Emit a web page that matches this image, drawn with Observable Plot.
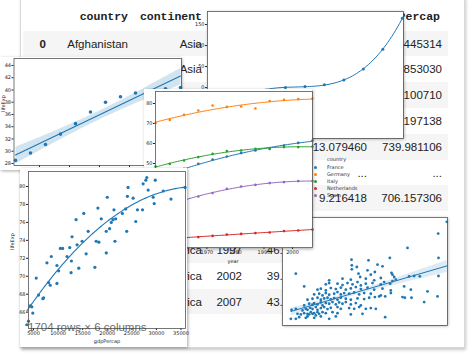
<!DOCTYPE html>
<html>
<head>
<meta charset="utf-8">
<script src="https://cdn.jsdelivr.net/npm/d3@7"></script>
<script src="https://cdn.jsdelivr.net/npm/@observablehq/plot@0.6"></script>
<style>
html,body{margin:0;padding:0;background:#fff;}
#stage{position:relative;width:474px;height:355px;overflow:hidden;font-family:"Liberation Sans",Arial,sans-serif;}
#stage svg{overflow:visible;}
</style>
</head>
<body>
<div id="stage"></div>
<script>
// ---------------- data ----------------
// background data-frame table
const tableColumns = ["country", "continent", "year", "lifeExp", "pop", "gdpPercap"];
const rowIndex     = ["0", "1", "2", "3", "4", "...", "1699", "1700", "1701", "1702", "1703"];
const rowCountry   = ["Afghanistan","Afghanistan","Afghanistan","Afghanistan","Afghanistan","...","Zimbabwe","Zimbabwe","Zimbabwe","Zimbabwe","Zimbabwe"];
const rowContinent = ["Asia","Asia","Asia","Asia","Asia","...","Africa","Africa","Africa","Africa","Africa"];
const rowYear      = ["1952","1957","1962","1967","1972","...","1987","1992","1997","2002","2007"];
const rowLifeExp   = ["28.801","30.332","31.997","34.020","36.088","...","62.351","60.377","46.809","39.989","43.487"];
const rowPop       = ["8.425333","9.240934","10.267083","11.537966","13.079460","...","9.216418","10.704340","11.404948","11.926563","12.311143"];
const rowGdp       = ["779.445314","820.853030","853.100710","836.197138","739.981106","...","706.157306","693.420786","792.449960","672.038623","469.709298"];
const tableFooter  = "1704 rows × 6 columns";

// chart A (top right): cubic trend
const curveYears  = [1957, 1962, 1967, 1972, 1977, 1982, 1987, 1992, 1997, 2002, 2007];
const curveValues = [-100, -48, -18, -5.5, 0, 2.4, 7.1, 18.3, 44.5, 91.4, 165];
const curveTicks  = [-100, -50, 0, 50, 100, 150];

// chart B (top left): Afghanistan lifeExp vs year
const afgYears   = [1952, 1957, 1962, 1967, 1972, 1977, 1982, 1987, 1992, 1997, 2002, 2007];
const afgLifeExp = [28.5, 29.7, 31.1, 32.8, 34.5, 36.4, 38.0, 38.9, 39.5, 39.9, 40.2, 40.4];
const afgXTicks  = [1960, 1970, 1980, 1990, 2000];
const afgYTicks  = [28, 30, 32, 34, 36, 38, 40, 42, 44];

// chart C (middle): several countries
const countries     = ["France", "Germany", "Italy", "Netherlands", "Spain"];
const countryColors = ["#1f77b4", "#ff7f0e", "#2ca02c", "#d62728", "#9467bd"];
const panelYears    = [1952, 1957, 1962, 1967, 1972, 1977, 1982, 1987, 1992, 1997, 2002, 2007];
const franceVals      = [42.3, 44.8, 47.3, 49.8, 52.0, 53.5, 55.2, 56.5, 57.3, 59.0, 60.3, 61.5];
const germanyVals     = [70.2, 71.8, 74.3, 76.5, 79.0, 78.3, 78.5, 77.5, 81.2, 81.8, 82.2, 82.5];
const italyVals       = [48.5, 49.8, 51.5, 53.2, 54.8, 56.2, 56.5, 57.3, 57.7, 58.2, 58.2, 58.5];
const netherlandsVals = [12.0, 12.4, 12.8, 13.2, 13.8, 14.5, 14.8, 15.2, 15.5, 16.2, 16.5, 17.0];
const spainVals       = [27.0, 29.5, 31.7, 33.5, 35.2, 37.3, 38.5, 39.3, 40.2, 40.7, 41.2, 41.2];
const panelXTicks = [1970, 1980, 1990, 2000];
const panelYTicks = [20, 30, 40, 50, 60, 70, 80];

// chart E (bottom left): lifeExp vs gdpPercap
const eGdp  = [3640,3980,4320,4660,4860,5550,6020,6910,7050,7730,8070,8410,8620,9770,9770,10120,10460,10930,11820,12370,12640,12710,12840,13660,13870,14210,14890,15230,15710,16120,17480,17750,18100,18300,18780,19800,19800,20000,20480,20820,21160,21370,21570,21710,23070,23760,23960,24100,24230,25260,25800,26140,27170,27300,27850,28050,28320,29350,29550,29760,31390,32960,35830];
const eLife = [64.6,65.0,66.7,66.6,65.9,69.8,67.9,67.5,67.6,71.5,69.3,69.0,72.2,69.2,71.2,70.6,73.1,73.1,72.2,73.2,70.4,71.7,74.4,76.3,73.5,70.9,73.9,77.0,72.5,75.0,71.0,73.9,77.6,73.8,76.4,72.6,75.0,78.8,75.3,76.0,76.3,77.4,73.9,76.4,77.0,77.5,75.0,78.9,79.9,78.7,76.1,77.4,77.4,80.3,80.7,81.0,79.6,78.8,78.1,80.7,79.5,78.6,79.9];
const gdpTicks  = [5000, 10000, 15000, 20000, 25000, 30000, 35000];
const lifeTicks = [66, 68, 70, 72, 74, 76, 78, 80];

// chart F (bottom right): scatter with linear trend (unitless values)
const fPoints = [
 [12,5],[15,5],[17,6],[21,5.6],[22,6.4],[26,5.6],[27,7],[30,6.4],[35,5],[39,6.4],[48,7.6],[68.6,6],
 [16,8],[18,7.6],[20,8.4],[22,8],[23,7.6],[24,9],[25,8],[26,8.4],[28,9],[29,8],[31,9],[33,8.4],[37,9],[40,8.4],[55,8],
 [12.4,10.4],[15,11],[19,10],[21,11],[22,10.4],[23.6,11.6],[25,10.8],[27,12],[28,10.4],[30,11.4],[32,12],[34,10.8],[36,11.6],[40,12],[42,11],[47,11.4],[50,11],[53,12],[57,11],[60,11.4],[63,11],
 [20,13],[23,14],[25,13.4],[26,14.4],[28,13.6],[30,14.8],[31,13],[33,14.4],[35,14],[37,15],[39,13.6],[41,14.8],[43,14],[45,15],[48,13.6],[51,14.4],[54,13],[92,15],
 [22,16.4],[25,17],[28,17.6],[30,16.4],[32,17.2],[34,17.6],[36,16.6],[38,17.4],[40,16.4],[42,17.6],[45,17],[48,16.4],[52,17.2],[56,16.8],[59,17.6],[62.4,18],[65,18.4],[68.6,18.4],[79,18],[80.4,17.6],[84.4,17.6],[100,18.4],
 [26,19.6],[29,20],[31,19],[33,20.4],[35,19.4],[38,20],[40,21],[42,19.6],[44,20.4],[47,20],[50,20.8],[53,19.6],[56,20.4],[60,20],[66,19],[72,20.4],[94,21.4],
 [28,22.4],[30,23],[33,22],[36,23.4],[39,22.8],[42,23.6],[45,22.4],[48,23.2],[51,24],[54,22.8],[58,23.6],[62,22.4],[67,23],[72,22],[80,24.4],[84,22.4],
 [20,24.4],[33,25.6],[35,26.4],[40,26],[43,25.2],[46,26.4],[49,25.6],[52,27],[54,25],[57,26],[61,26.4],[66,25.6],[68,27],[71.6,26],[73,27.6],
 [35,28],[43,29],[48,28.4],[53.6,30],[57,29],[62,28],[66,29.4],[74,30],[75,28.4],[83,30.4],[86,30.6],[89.4,30.4],[100.6,30.6],
 [15,32],[48.6,34.6],[52.6,32],[58,34],[60,31.4],[62.4,33],[72.4,32.4],[73,31.4],
 [48.6,37],[51.6,36],[64,37.4],[67,36.4],
 [48.4,40.4],[58.6,40],[71.4,41.4],[100.6,41.4],
 [82,47.4],[100.4,56],[105.6,63]
];

// ---------------- helpers ----------------
const stage = document.getElementById("stage");
const C0 = countryColors[0];
function el(css, text) {
  const d = document.createElement("div");
  Object.assign(d.style, {position: "absolute"}, css);
  if (text != null) d.textContent = text;
  stage.appendChild(d);
  return d;
}
function place(node, left, top, z) {
  Object.assign(node.style, {position: "absolute", left: left + "px", top: top + "px", zIndex: z});
  stage.appendChild(node);
}
function paper(left, top, w, h, z) {
  el({left: left + "px", top: top + "px", width: w + "px", height: h + "px", background: "#fff",
      boxShadow: "1px 1px 3px rgba(0,0,0,0.35)", zIndex: z});
}
// least-squares polynomial fit (as seaborn regplot order=n)
function polyfit(xs, ys, order) {
  const x0 = d3.mean(xs), s = d3.deviation(xs) || 1, n = order + 1;
  const A = Array.from({length: n}, () => new Array(n).fill(0)), b = new Array(n).fill(0);
  xs.forEach((x, k) => {
    const t = (x - x0) / s, p = [];
    for (let i = 0; i < n; i++) p.push(Math.pow(t, i));
    for (let i = 0; i < n; i++) { b[i] += p[i] * ys[k]; for (let j = 0; j < n; j++) A[i][j] += p[i] * p[j]; }
  });
  for (let i = 0; i < n; i++) {
    let m = i;
    for (let r = i + 1; r < n; r++) if (Math.abs(A[r][i]) > Math.abs(A[m][i])) m = r;
    [A[i], A[m]] = [A[m], A[i]]; [b[i], b[m]] = [b[m], b[i]];
    for (let r = i + 1; r < n; r++) { const f = A[r][i] / A[i][i]; for (let c = i; c < n; c++) A[r][c] -= f * A[i][c]; b[r] -= f * b[i]; }
  }
  const c = new Array(n).fill(0);
  for (let i = n - 1; i >= 0; i--) { let v = b[i]; for (let j = i + 1; j < n; j++) v -= A[i][j] * c[j]; c[i] = v / A[i][i]; }
  return x => { const t = (x - x0) / s; let v = 0; for (let i = n - 1; i >= 0; i--) v = v * t + c[i]; return v; };
}
function sampleFit(lo, hi, f, extra) {
  return d3.range(101).map(i => { const x = lo + (hi - lo) * i / 100; return Object.assign({x, y: f(x)}, extra || {}); });
}
const tickStyle = {background: "transparent", fontFamily: "'DejaVu Sans', sans-serif", fontSize: "5px", color: "#222", overflow: "visible"};
const frameMark = () => Plot.frame({stroke: "#555", strokeWidth: 0.8});
// axis titles as text marks anchored on the frame
const xTitle = (t, dy) => Plot.text([t], {text: d => d, frameAnchor: "bottom", dy, fontSize: 5, fill: "#222", lineAnchor: "middle"});
const yTitle = (t, off) => Plot.text([t], {text: d => d, frameAnchor: "left", rotate: -90, dx: -off, fontSize: 5, fill: "#222", lineAnchor: "middle"});

// ---------------- background table ----------------
el({left: "20px", top: "-3px", width: "443px", height: "349px", border: "1px solid #d9d9d9",
    boxShadow: "1px 2px 3px rgba(0,0,0,0.22)", background: "#fff", zIndex: 0});
const rowTop0 = 30.6, rowH = 25.8;
rowIndex.forEach((_, i) => {
  if (i % 2 === 0) el({left: "23px", top: (rowTop0 + rowH * i) + "px", width: "425px", height: rowH + "px", background: "#f5f5f5", zIndex: 0});
});
const colRights = [46, 128, 202, 242, 302, 367, 442];
function cell(text, right, cy, css) {
  el(Object.assign({left: (right - 150) + "px", width: "150px", top: (cy - 7) + "px", height: "14px", lineHeight: "14px",
    textAlign: "right", fontSize: "11.5px", color: "#222", whiteSpace: "nowrap", zIndex: 0}, css || {}), text);
}
tableColumns.forEach((c, j) => cell(c, j === 5 ? 440 : colRights[j + 1], 16.5,
  {fontFamily: "'Liberation Mono', monospace", fontWeight: "bold", color: "#222"}));
const tableCols = [rowCountry, rowContinent, rowYear, rowLifeExp, rowPop, rowGdp];
rowIndex.forEach((idx, i) => {
  const cy = rowTop0 + rowH * i + rowH / 2;
  cell(idx, colRights[0], cy, {fontWeight: "bold"});
  tableCols.forEach((col, j) => cell(col[i], colRights[j + 1], cy));
});

// ---------------- chart A ----------------
const fitA = polyfit(curveYears, curveValues, 3);
paper(207, 11, 196, 127, 2);
const plotA = Plot.plot({
  width: 214, height: 132, marginLeft: 17, marginRight: 1, marginTop: 3, marginBottom: 2,
  style: tickStyle,
  x: {domain: [1957, 2007.3], axis: null},
  y: {domain: [-121, 181], ticks: curveTicks, tickSize: 2, tickPadding: 1, label: null},
  marks: [
    Plot.line(sampleFit(1957, 2007.3, fitA), {x: "x", y: "y", stroke: C0, strokeWidth: 1, clip: true}),
    Plot.dot(curveYears.map((x, i) => ({x, y: curveValues[i]})), {x: "x", y: "y", r: 1.5, fill: C0}),
    frameMark()
  ]
});
place(plotA, 190, 8, 2);

// ---------------- chart B ----------------
const bData = afgYears.map((year, i) => ({year, lifeExp: afgLifeExp[i]}));
paper(0, 57, 181, 113, 3);
const plotB = Plot.plot({
  width: 182, height: 113, marginLeft: 13.5, marginRight: 1, marginTop: 1, marginBottom: 5,
  style: tickStyle,
  x: {domain: [1951.5, 2007.33], ticks: afgXTicks, tickFormat: d => String(d), tickSize: 2, tickPadding: 1, label: null},
  y: {domain: [27.67, 45.14], ticks: afgYTicks, tickSize: 2, tickPadding: 1, label: null},
  marks: [
    Plot.linearRegressionY(bData, {x: "year", y: "lifeExp", stroke: C0, fill: C0, fillOpacity: 0.2, strokeWidth: 1.1}),
    Plot.dot(bData, {x: "year", y: "lifeExp", r: 1.8, fill: C0}),
    frameMark(),
    yTitle("lifeExp", 11)
  ]
});
place(plotB, 0, 57, 3);

// ---------------- chart F ----------------
const fData = fPoints.map(([a, b]) => ({a, b}));
paper(282, 217, 165, 108, 4);
const plotF = Plot.plot({
  width: 165, height: 108, marginLeft: 0, marginRight: 0, marginTop: 0, marginBottom: 0,
  style: tickStyle,
  x: {domain: [7, 106], axis: null},
  y: {domain: [1, 65.6], axis: null},
  marks: [
    Plot.linearRegressionY(fData, {x: "a", y: "b", stroke: C0, fill: C0, fillOpacity: 0.15, strokeWidth: 1}),
    Plot.dot(fData, {x: "a", y: "b", r: 1.4, fill: C0}),
    frameMark()
  ]
});
place(plotF, 282, 217, 4);

// ---------------- chart C ----------------
const cSeries = [franceVals, germanyVals, italyVals, netherlandsVals, spainVals];
const cData = countries.flatMap((country, i) => panelYears.map((yr, j) => ({country, yr, value: cSeries[i][j]})));
const cFit = countries.flatMap((country, i) => sampleFit(1952, 2007, polyfit(panelYears, cSeries[i], 2), {country}));
paper(144, 89, 168, 159, 5);
const plotC = Plot.plot({
  width: 176, height: 176, marginLeft: 17, marginRight: 2, marginTop: 2, marginBottom: 18,
  style: tickStyle,
  x: {domain: [1952, 2007], ticks: panelXTicks, tickFormat: d => String(d), tickSize: 2, tickPadding: 1, label: null},
  y: {domain: [8, 86], ticks: panelYTicks, tickSize: 2, tickPadding: 1, label: null},
  color: {domain: countries, range: countryColors},
  marks: [
    Plot.line(cFit, {x: "x", y: "y", stroke: "country", strokeWidth: 1}),
    Plot.dot(cData, {x: "yr", y: "value", fill: "country", r: 1.3}),
    frameMark()
  ]
});
place(plotC, 138, 89, 5);
// x title of chart C
el({left: "203px", width: "60px", top: "258px", textAlign: "center", fontFamily: "'DejaVu Sans', sans-serif", fontSize: "5px", color: "#222", zIndex: 5, lineHeight: "6px"}, "year");
// legend of chart C
el({left: "327px", top: "156px", fontFamily: "'DejaVu Sans', sans-serif", fontSize: "5px", color: "#333", zIndex: 5, lineHeight: "6px"}, "country");
countries.forEach((c, i) => {
  el({left: "313.5px", top: (165.5 + 7 * i) + "px", width: "3px", height: "3px", borderRadius: "50%", background: countryColors[i], zIndex: 5});
  el({left: "327px", top: (164 + 7 * i) + "px", fontFamily: "'DejaVu Sans', sans-serif", fontSize: "5px", color: "#333", zIndex: 5, lineHeight: "6px"}, c);
});

// ---------------- chart E ----------------
const eData = eGdp.map((g, i) => ({gdpPercap: g, lifeExp: eLife[i]}));
const fitE = polyfit(eGdp, eLife, 2);
paper(20, 168, 167, 179, 6);
const plotE = Plot.plot({
  width: 182, height: 179, marginLeft: 23, marginRight: 2, marginTop: 3, marginBottom: 19,
  style: tickStyle,
  x: {domain: [3983, 35917], ticks: gdpTicks, tickFormat: d => String(d), tickSize: 2, tickPadding: 1, label: null},
  y: {domain: [64.18, 81.67], ticks: lifeTicks, tickSize: 2, tickPadding: 1, label: null},
  marks: [
    Plot.dot(eData, {x: "gdpPercap", y: "lifeExp", r: 1.6, fill: C0}),
    Plot.line(sampleFit(d3.min(eGdp), d3.max(eGdp), fitE), {x: "x", y: "y", stroke: C0, strokeWidth: 1.1}),
    frameMark(),
    xTitle("gdpPercap", 13),
    yTitle("lifeExp", 16)
  ]
});
place(plotE, 5, 168, 6);

// table footer shows through on top
el({left: "28px", top: "320px", fontSize: "11.5px", color: "#3a3a3a", opacity: "0.75", whiteSpace: "nowrap", zIndex: 7, lineHeight: "14px"}, tableFooter);
</script>
</body>
</html>
